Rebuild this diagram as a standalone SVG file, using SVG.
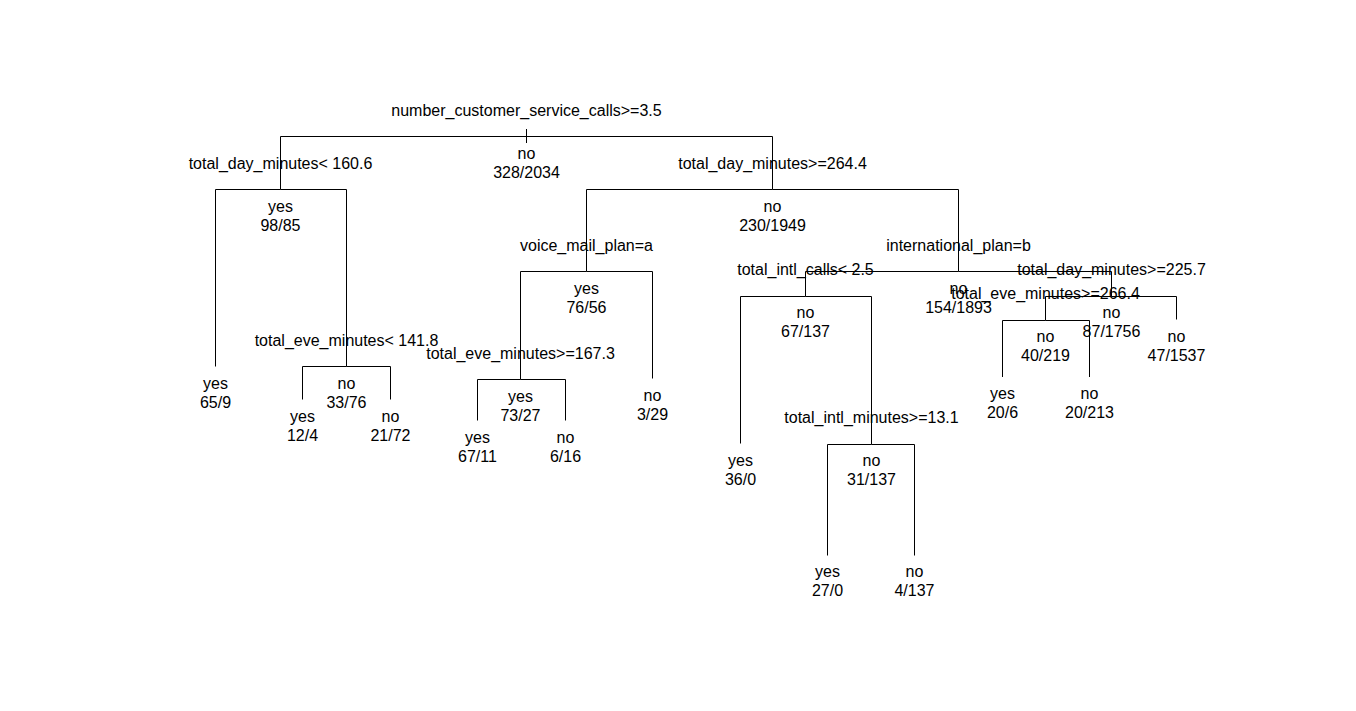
<svg xmlns="http://www.w3.org/2000/svg" width="1356" height="711" viewBox="0 0 1356 711">
<style>
text{font-family:"Liberation Sans",Arial,sans-serif;font-size:16px;fill:#000;text-anchor:middle}
.e{fill:none;stroke:#000;stroke-width:1}
</style>
<rect width="1356" height="711" fill="#fff"/>
<g id="connectors">
<line class="e" x1="526.5" y1="129" x2="526.5" y2="143"/>
<path class="e" d="M526.5,136.5H280.5V189.5"/>
<path class="e" d="M526.5,136.5H772.5V189.5"/>
<path class="e" d="M280.5,189.5H215.5V366.5"/>
<path class="e" d="M280.5,189.5H346.5V366.5"/>
<path class="e" d="M346.5,366.5H302.5V399.5"/>
<path class="e" d="M346.5,366.5H390.5V399.5"/>
<path class="e" d="M772.5,189.5H586.5V271.5"/>
<path class="e" d="M772.5,189.5H958.5V271.5"/>
<path class="e" d="M586.5,271.5H520.5V379.5"/>
<path class="e" d="M586.5,271.5H652.5V378.5"/>
<path class="e" d="M520.5,379.5H477.5V420.5"/>
<path class="e" d="M520.5,379.5H565.5V420.5"/>
<path class="e" d="M958.5,271.5H805.5V296.5"/>
<path class="e" d="M958.5,271.5H1111.5V296.5"/>
<path class="e" d="M805.5,296.5H740.5V443.5"/>
<path class="e" d="M805.5,296.5H871.5V444.5"/>
<path class="e" d="M871.5,444.5H827.5V555.5"/>
<path class="e" d="M871.5,444.5H914.5V555.5"/>
<path class="e" d="M1111.5,296.5H1045.5V320.5"/>
<path class="e" d="M1111.5,296.5H1176.5V319.5"/>
<path class="e" d="M1045.5,320.5H1002.5V377"/>
<path class="e" d="M1045.5,320.5H1089.5V377"/>
</g>
<g id="n1"><text x="526.5" y="116">number_customer_service_calls&gt;=3.5</text><text x="526.5" y="159">no</text><text x="526.5" y="178">328/2034</text></g>
<g id="n2"><text x="280.5" y="169">total_day_minutes&lt; 160.6</text><text x="280.5" y="212">yes</text><text x="280.5" y="231">98/85</text></g>
<g id="n4"><text x="215.5" y="389">yes</text><text x="215.5" y="408">65/9</text></g>
<g id="n5"><text x="346.5" y="346">total_eve_minutes&lt; 141.8</text><text x="346.5" y="389">no</text><text x="346.5" y="408">33/76</text></g>
<g id="n10"><text x="302.5" y="422">yes</text><text x="302.5" y="441">12/4</text></g>
<g id="n11"><text x="390.5" y="422">no</text><text x="390.5" y="441">21/72</text></g>
<g id="n3"><text x="772.5" y="169">total_day_minutes&gt;=264.4</text><text x="772.5" y="212">no</text><text x="772.5" y="231">230/1949</text></g>
<g id="n6"><text x="586.5" y="251">voice_mail_plan=a</text><text x="586.5" y="294">yes</text><text x="586.5" y="313">76/56</text></g>
<g id="n12"><text x="520.5" y="358.5">total_eve_minutes&gt;=167.3</text><text x="520.5" y="402">yes</text><text x="520.5" y="421">73/27</text></g>
<g id="n24"><text x="477.5" y="443">yes</text><text x="477.5" y="462">67/11</text></g>
<g id="n25"><text x="565.5" y="443">no</text><text x="565.5" y="462">6/16</text></g>
<g id="n13"><text x="652.5" y="401">no</text><text x="652.5" y="420">3/29</text></g>
<g id="n7"><text x="958.5" y="251">international_plan=b</text><text x="958.5" y="294">no</text><text x="958.5" y="313">154/1893</text></g>
<g id="n14"><text x="805.5" y="274.5">total_intl_calls&lt; 2.5</text><text x="805.5" y="318">no</text><text x="805.5" y="337">67/137</text></g>
<g id="n28"><text x="740.5" y="466">yes</text><text x="740.5" y="485">36/0</text></g>
<g id="n29"><text x="871.5" y="423">total_intl_minutes&gt;=13.1</text><text x="871.5" y="466">no</text><text x="871.5" y="485">31/137</text></g>
<g id="n58"><text x="827.5" y="577">yes</text><text x="827.5" y="596">27/0</text></g>
<g id="n59"><text x="914.5" y="577">no</text><text x="914.5" y="596">4/137</text></g>
<g id="n15"><text x="1111.5" y="274.5">total_day_minutes&gt;=225.7</text><text x="1111.5" y="318">no</text><text x="1111.5" y="337">87/1756</text></g>
<g id="n30"><text x="1045.5" y="298.5">total_eve_minutes&gt;=266.4</text><text x="1045.5" y="342">no</text><text x="1045.5" y="361">40/219</text></g>
<g id="n60"><text x="1002.5" y="399">yes</text><text x="1002.5" y="418">20/6</text></g>
<g id="n61"><text x="1089.5" y="399">no</text><text x="1089.5" y="418">20/213</text></g>
<g id="n31"><text x="1176.5" y="342">no</text><text x="1176.5" y="361">47/1537</text></g>
</svg>
